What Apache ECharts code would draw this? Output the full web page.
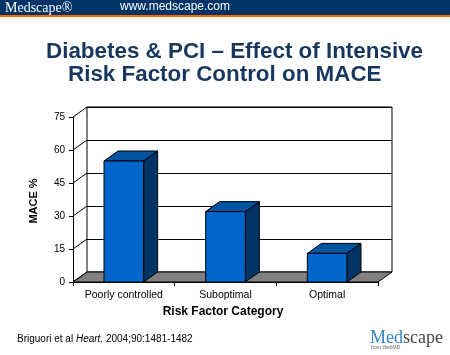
<!DOCTYPE html>
<html><head><meta charset="utf-8">
<script src="https://cdn.jsdelivr.net/npm/echarts@6/dist/echarts.min.js"></script>
<style>html,body{margin:0;padding:0;background:#fff}#c{width:450px;height:355px}</style>
</head><body><div id="c"></div>
<script>
const categories = ['Poorly controlled', 'Suboptimal', 'Optimal'];
const maceValues = [55, 32, 13];
const yMin = 0, yMax = 75, yStep = 15;
const yTickValues = [0, 15, 30, 45, 60, 75];

const FONT = "'Liberation Sans', Arial, sans-serif";
const SERIF = "'Liberation Serif', 'Times New Roman', serif";
const FRONT = {left: 73, top: 117, width: 305, height: 165};
const DX = 14, DY = -10;
const BACK = {left: FRONT.left + DX, top: FRONT.top + DY, width: FRONT.width, height: FRONT.height};
const fBottom = FRONT.top + FRONT.height, fRight = FRONT.left + FRONT.width;

const chart = echarts.init(document.getElementById('c'), null, {renderer: 'canvas'});

function yPix(v) { return fBottom - (v - yMin) / (yMax - yMin) * FRONT.height; }

const graphics = [
  {type: 'rect', shape: {x: 0, y: 0, width: 450, height: 15}, style: {fill: '#003366'}, z: 1},
  {type: 'rect', shape: {x: 0, y: 15, width: 450, height: 2}, style: {fill: '#FF6600'}, z: 1},
  {type: 'text', left: 5, top: 1, style: {text: 'Medscape®', fill: '#fff', font: '14px ' + SERIF}, z: 2},
  {type: 'text', left: 120, top: 1, style: {text: 'www.medscape.com', fill: '#fff', font: '12px ' + FONT}, z: 2},
  {type: 'text', x: 46, y: 52, style: {text: 'Diabetes & PCI – Effect of Intensive', fill: '#17375E', font: 'bold 22.4px ' + FONT, verticalAlign: 'middle'}, z: 2},
  {type: 'text', x: 68, y: 75, style: {text: 'Risk Factor Control on MACE', fill: '#17375E', font: 'bold 22.4px ' + FONT, verticalAlign: 'middle'}, z: 2},
  {type: 'text', x: 34, y: 201, rotation: Math.PI / 2, style: {text: 'MACE %', fill: '#000', font: 'bold 11px ' + FONT, align: 'center', verticalAlign: 'middle'}, z: 2},
  {type: 'text', x: 223, y: 312, style: {text: 'Risk Factor Category', fill: '#000', font: 'bold 12px ' + FONT, align: 'center', verticalAlign: 'middle'}, z: 2},
  {type: 'text', x: 17, y: 339, style: {
    text: '{n|Briguori et al }{i|Heart}{n|. 2004;90:1481-1482}', verticalAlign: 'middle',
    rich: {n: {font: '10px ' + FONT, fill: '#000'}, i: {font: 'italic 10px ' + FONT, fill: '#000'}}
  }, z: 2},
  {type: 'text', x: 370, y: 338, style: {
    text: '{a|Med}{b|scape}', verticalAlign: 'middle',
    rich: {a: {font: '18px ' + SERIF, fill: '#2F86C4'}, b: {font: '18px ' + SERIF, fill: '#444'}}
  }, z: 2},
  {type: 'text', x: 371, y: 348, style: {text: 'from WebMD', fill: '#666', font: '5px ' + FONT, verticalAlign: 'middle'}, z: 2},
  // floor
  {type: 'polygon', shape: {points: [[FRONT.left, fBottom], [fRight, fBottom], [fRight + DX, fBottom + DY], [FRONT.left + DX, fBottom + DY]]},
   style: {fill: '#808080', stroke: '#000', lineWidth: 1}, z: 3}
];
// left side wall lines
yTickValues.forEach(v => {
  const y = yPix(v);
  graphics.push({type: 'line', shape: {x1: FRONT.left, y1: y, x2: FRONT.left + DX, y2: y + DY}, style: {stroke: '#000', lineWidth: 1}, z: 3});
});

const axisFont = {color: '#000', fontFamily: FONT, fontSize: 10};

chart.setOption({
  animation: false,
  backgroundColor: '#fff',
  grid: [
    Object.assign({show: true, backgroundColor: '#fff', borderColor: '#000', borderWidth: 1, z: 0}, BACK),
    Object.assign({show: false}, FRONT)
  ],
  xAxis: [
    {type: 'category', gridIndex: 0, data: categories, show: false},
    {type: 'category', gridIndex: 1, data: categories,
     axisLine: {show: true, lineStyle: {color: '#000', width: 1}},
     axisTick: {show: true, length: 4, lineStyle: {color: '#000'}, interval: 0},
     axisLabel: Object.assign({margin: 8, interval: 0}, axisFont, {fontSize: 10.5}),
     splitLine: {show: false}}
  ],
  yAxis: [
    {type: 'value', gridIndex: 0, min: yMin, max: yMax, interval: yStep,
     axisLine: {show: false}, axisTick: {show: false}, axisLabel: {show: false},
     splitLine: {show: true, lineStyle: {color: '#000', width: 1}}},
    {type: 'value', gridIndex: 1, min: yMin, max: yMax, interval: yStep,
     axisLine: {show: true, lineStyle: {color: '#000', width: 1}},
     axisTick: {show: true, length: 4, lineStyle: {color: '#000'}},
     axisLabel: Object.assign({margin: 8}, axisFont),
     splitLine: {show: false}}
  ],
  graphic: graphics,
  series: [{
    type: 'custom',
    xAxisIndex: 1, yAxisIndex: 1,
    z: 10,
    data: maceValues.map((v, i) => [i, v]),
    renderItem: function (params, api) {
      const i = api.value(0), v = api.value(1);
      const base = api.coord([i, 0]);
      const top = api.coord([i, v]);
      const bw = api.size([1, 0])[0] * 0.39;
      const x0 = base[0] - bw / 2, x1 = x0 + bw;
      const yt = top[1], yb = base[1];
      const stroke = {stroke: '#000', lineWidth: 1};
      return {type: 'group', children: [
        {type: 'polygon', shape: {points: [[x1, yt], [x1 + DX, yt + DY], [x1 + DX, yb + DY], [x1, yb]]},
         style: Object.assign({fill: '#003366'}, stroke)},
        {type: 'polygon', shape: {points: [[x0, yt], [x1, yt], [x1 + DX, yt + DY], [x0 + DX, yt + DY]]},
         style: Object.assign({fill: '#0052A3'}, stroke)},
        {type: 'rect', shape: {x: x0, y: yt, width: bw, height: yb - yt},
         style: Object.assign({fill: '#0066CC'}, stroke)}
      ]};
    }
  }]
});
</script></body></html>
